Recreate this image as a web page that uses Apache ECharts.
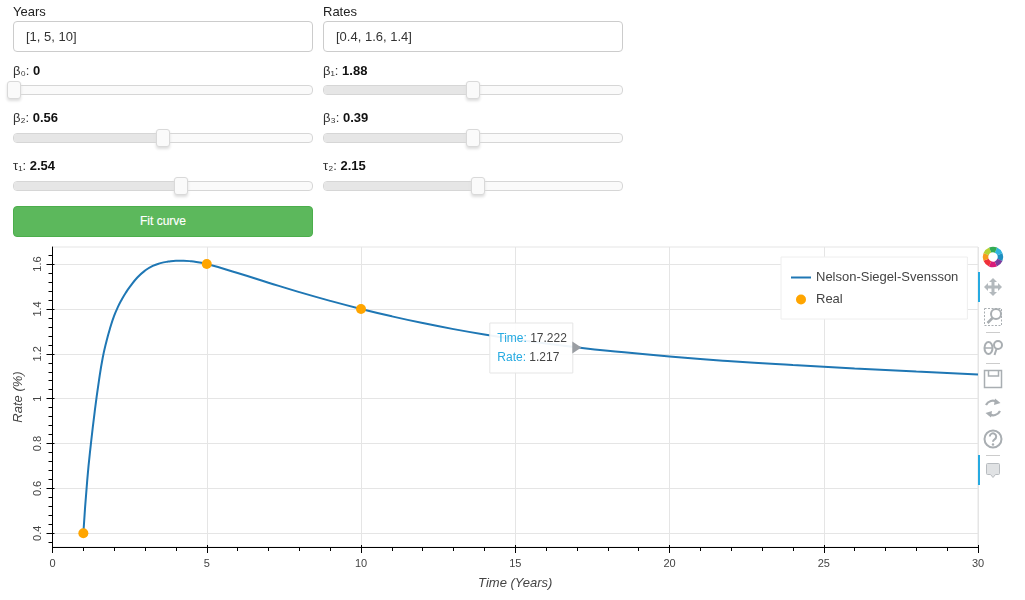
<!DOCTYPE html>
<html>
<head>
<meta charset="utf-8">
<title>Nelson-Siegel-Svensson</title>
<script src="https://cdn.jsdelivr.net/npm/echarts@6/dist/echarts.min.js"></script>
<style>
html, body { margin: 0; padding: 0; background: #fff; overflow: hidden; }
body { width: 1025px; height: 600px; position: relative; font-family: "Liberation Sans", Arial, sans-serif; color: #222; }
#chart { position: absolute; left: 0; top: 0; width: 1025px; height: 600px; }
.title { position: absolute; font-size: 13px; line-height: 16px; }
.box { position: absolute; width: 286px; height: 29px; padding-left: 12px; border: 1px solid #ccc; border-radius: 4px; font-size: 13px; line-height: 29px; background: #fff; color: #333; }
.lab { position: absolute; font-size: 13px; line-height: 16px; color: #333; }
.lab b { color: #111; }
.track { position: absolute; width: 298px; height: 8px; border: 1px solid #d6d6d6; border-radius: 4px; background: #fafafa; overflow: hidden; }
.fill { height: 100%; background: #e6e6e6; }
.handle { position: absolute; width: 12px; height: 16px; border: 1px solid #d9d9d9; border-radius: 3px; background: #fafafa; box-shadow: 0 2px 3px #ddd; }
.btn { position: absolute; left: 13px; top: 206px; width: 298px; height: 29px; border: 1px solid #4cae4c; border-radius: 4px; background: #5cb85c; color: #fff; font-size: 12px; line-height: 28px; text-align: center; -webkit-text-stroke: 0.15px #fff; }
#bar { position: absolute; left: 978px; top: 245px; }
</style>
</head>
<body>
<div id="chart"></div>
<div id="form"></div>
<svg id="bar" width="40" height="250" viewBox="978 245 40 250">
  <rect x="978" y="272" width="2" height="30" fill="#26aae1"/>
  <rect x="978" y="455" width="2" height="30" fill="#26aae1"/>
  <g fill="none" stroke-width="5.5">
    <circle cx="993" cy="257" r="7.5" stroke="#2fb4e0" stroke-dasharray="5.9 53" transform="rotate(-67 993 257)"/>
    <circle cx="993" cy="257" r="7.5" stroke="#1f8fc0" stroke-dasharray="5.9 53" transform="rotate(-22 993 257)"/>
    <circle cx="993" cy="257" r="7.5" stroke="#7a3d9e" stroke-dasharray="5.9 53" transform="rotate(23 993 257)"/>
    <circle cx="993" cy="257" r="7.5" stroke="#d81b7a" stroke-dasharray="5.9 53" transform="rotate(68 993 257)"/>
    <circle cx="993" cy="257" r="7.5" stroke="#f0303a" stroke-dasharray="5.9 53" transform="rotate(113 993 257)"/>
    <circle cx="993" cy="257" r="7.5" stroke="#f79a1e" stroke-dasharray="5.9 53" transform="rotate(158 993 257)"/>
    <circle cx="993" cy="257" r="7.5" stroke="#b5d334" stroke-dasharray="5.9 53" transform="rotate(203 993 257)"/>
    <circle cx="993" cy="257" r="7.5" stroke="#33ab54" stroke-dasharray="5.9 53" transform="rotate(248 993 257)"/>
  </g>
  <path d="M993 278l4 4h-2.500v3.500h3.500v-2.500l4 4-4 4v-2.500h-3.500v3.500h2.500l-4 4-4-4h2.500v-3.500h-3.500v2.500l-4-4 4-4v2.500h3.500v-3.500h-2.500z" fill="#b3b9bd"/>
  <g fill="none" stroke="#a9aeb2">
    <rect x="984.500" y="308.500" width="17" height="17" stroke-dasharray="2 1.500" stroke-width="1"/>
    <circle cx="996" cy="314" r="5" fill="#fff" stroke-width="2"/>
    <path d="M992.500 318l-5 5" stroke-width="2.500"/>
    <ellipse cx="988.500" cy="348" rx="4" ry="6" stroke-width="2"/>
    <path d="M985 348h7" stroke-width="1.500"/>
    <circle cx="998" cy="345" r="4" stroke-width="2"/>
    <path d="M996.500 349l-2 6" stroke-width="2"/>
    <path d="M984.500 370.500h17v17h-17z" stroke-width="1.500"/>
    <path d="M988.500 370.500v5.500h10v-5.500" stroke-width="1.500"/>
    <path d="M986 405a7.500 7.500 0 0 1 11-3M1000 411a7.500 7.500 0 0 1-11 3" stroke-width="2.200"/>
    <circle cx="993" cy="439" r="8.500" stroke-width="2"/>
    <path d="M989.800 436.500a3.200 3.200 0 1 1 4.800 2.800c-1 .6-1.600 1.200-1.600 2.400" stroke-width="2"/>
    <path d="M986 332.500h14M986 363.500h14M986 455.500h14" stroke="#ccc" stroke-width="1"/>
  </g>
  <path d="M995 398.500l5.500 4.500-6.500 2zM991 417.500l-5.500-4.500 6.500-2z" fill="#a9aeb2"/>
  <circle cx="993" cy="444.500" r="1.200" fill="#a9aeb2"/>
  <path d="M987.500 463.500h11a1 1 0 0 1 1 1v9a1 1 0 0 1-1 1h-3l-2.500 3-2.500-3h-3a1 1 0 0 1-1-1v-9a1 1 0 0 1 1-1z" fill="#e0e2e4" stroke="#b8bcc0"/>
</svg>
<script>
// values
var curveTimes = [1, 1.125, 1.25, 1.375, 1.5, 1.625, 1.75, 1.875, 2, 2.125, 2.25, 2.375, 2.5, 2.75, 3, 3.25, 3.5, 3.75, 4, 4.25, 4.5, 5, 6, 7, 8, 9, 10, 11, 12, 13, 14, 15, 16, 17, 18, 20, 22, 24, 26, 28, 30];
var curveRates = [0.4, 0.635, 0.805, 0.95, 1.075, 1.18, 1.256, 1.318, 1.37, 1.41, 1.443, 1.472, 1.497, 1.54, 1.571, 1.592, 1.604, 1.611, 1.615, 1.615, 1.612, 1.6, 1.56, 1.517, 1.475, 1.436, 1.4, 1.367, 1.337, 1.31, 1.286, 1.265, 1.246, 1.229, 1.214, 1.188, 1.167, 1.15, 1.135, 1.121, 1.108];
var realTimes = [1, 5, 10];
var realRates = [0.4, 1.6, 1.4];
var yTicks = [0.4, 0.6, 0.8, 1, 1.2, 1.4, 1.6];
var yMinorTicks = [0.36, 0.44, 0.48, 0.52, 0.56, 0.64, 0.68, 0.72, 0.76, 0.84, 0.88, 0.92, 0.96, 1.04, 1.08, 1.12, 1.16, 1.24, 1.28, 1.32, 1.36, 1.44, 1.48, 1.52, 1.56, 1.64];
var tipTime = 17.222;
var tipRate = 1.217;

// form controls
var inputs = [
    ['Years', '[1, 5, 10]', 13],
    ['Rates', '[0.4, 1.6, 1.4]', 323]
];
var sliders = [
    ['β₀', '0', 13, 63, 85, 14],
    ['β₁', '1.88', 323, 63, 85, 473],
    ['β₂', '0.56', 13, 110, 133, 163],
    ['β₃', '0.39', 323, 110, 133, 473],
    ['τ₁', '2.54', 13, 158, 181, 181],
    ['τ₂', '2.15', 323, 158, 181, 478]
];

var html = '';
inputs.forEach(function (d) {
    html += '<div class="title" style="left:' + d[2] + 'px;top:4px">' + d[0] + '</div>';
    html += '<div class="box" style="left:' + d[2] + 'px;top:21px">' + d[1] + '</div>';
});
sliders.forEach(function (d) {
    html += '<div class="lab" style="left:' + d[2] + 'px;top:' + d[3] + 'px">' + d[0] + ': <b>' + d[1] + '</b></div>';
    html += '<div class="track" style="left:' + d[2] + 'px;top:' + d[4] + 'px"><div class="fill" style="width:' + (d[5] - d[2]) + 'px"></div></div>';
    html += '<div class="handle" style="left:' + (d[5] - 7) + 'px;top:' + (d[4] - 4) + 'px"></div>';
});
html += '<div class="btn">Fit curve</div>';
document.getElementById('form').innerHTML = html;

var curve = curveTimes.map(function (t, i) { return [t, curveRates[i]]; });
var real = realTimes.map(function (t, i) { return [t, realRates[i]]; });

var yMin = 0.339, yMax = 1.676;
var font = 'Liberation Sans';
var chart = echarts.init(document.getElementById('chart'));

chart.setOption({
    animation: false,
    textStyle: { fontFamily: font },
    grid: { left: 52.5, top: 247, width: 925.5, height: 300, show: true, borderColor: '#e5e5e5', borderWidth: 1 },
    legend: {
        orient: 'vertical',
        left: 781,
        top: 257,
        padding: [14, 9, 13, 10],
        itemWidth: 20,
        itemHeight: 10,
        itemGap: 9,
        backgroundColor: '#fff',
        borderColor: '#eeeeee',
        borderWidth: 1,
        textStyle: { fontSize: 13, color: '#444' },
        data: [{ name: 'Nelson-Siegel-Svensson', icon: 'path://M0 0H20V2H0Z' }, { name: 'Real', icon: 'circle' }]
    },
    xAxis: [
        {
            type: 'value',
            min: 0,
            max: 30,
            interval: 5,
            name: 'Time (Years)',
            nameLocation: 'middle',
            nameGap: 30,
            nameTextStyle: { fontSize: 13, fontStyle: 'italic', color: '#444' },
            axisLine: { show: true, onZero: false, lineStyle: { color: '#000' } },
            axisTick: { show: true, length: 6, lineStyle: { color: '#000' } },
            minorTick: { show: true, splitNumber: 5, length: 4, lineStyle: { color: '#000' } },
            axisLabel: { fontSize: 11, color: '#444', margin: 11 },
            splitLine: { show: true, lineStyle: { color: '#e5e5e5' } }
        },
        {
            type: 'value',
            min: 0,
            max: 30,
            interval: 5,
            position: 'bottom',
            axisLine: { show: false, onZero: false },
            axisTick: { show: true, inside: true, length: 2, lineStyle: { color: '#000' } },
            axisLabel: { show: false },
            splitLine: { show: false }
        }
    ],
    yAxis: [
        {
            type: 'value',
            min: yMin,
            max: yMax,
            position: 'left',
            name: 'Rate (%)',
            nameLocation: 'middle',
            nameGap: 27,
            nameRotate: 90,
            nameTextStyle: { fontSize: 13, fontStyle: 'italic', color: '#444' },
            axisLine: { show: true, onZero: false, lineStyle: { color: '#000' } },
            axisTick: { show: true, length: 6, customValues: yTicks, lineStyle: { color: '#000' } },
            axisLabel: { fontSize: 11, color: '#444', rotate: 90, margin: 9, customValues: yTicks, align: 'center' },
            splitLine: { show: true, lineStyle: { color: '#e5e5e5' } }
        },
        {
            type: 'value',
            min: yMin,
            max: yMax,
            position: 'left',
            axisLine: { show: false, onZero: false },
            axisTick: { show: true, length: 4, customValues: yMinorTicks, lineStyle: { color: '#000' } },
            axisLabel: { show: false },
            splitLine: { show: false }
        },
        {
            type: 'value',
            min: yMin,
            max: yMax,
            position: 'left',
            axisLine: { show: false, onZero: false },
            axisTick: { show: true, inside: true, length: 2, customValues: yTicks, lineStyle: { color: '#000' } },
            axisLabel: { show: false },
            splitLine: { show: false }
        }
    ],
    series: [
        {
            name: 'Nelson-Siegel-Svensson',
            type: 'line',
            symbol: 'none',
            smooth: 0.5,
            lineStyle: { color: '#1f77b4', width: 2 },
            itemStyle: { color: '#1f77b4' },
            data: curve,
            z: 3
        },
        {
            name: 'Real',
            type: 'scatter',
            symbol: 'circle',
            symbolSize: 10,
            itemStyle: { color: '#ffa500', opacity: 1 },
            data: real,
            z: 4
        }
    ]
});

// hover tooltip, anchored on its data position
var tip = chart.convertToPixel({ xAxisIndex: 0, yAxisIndex: 0 }, [tipTime, tipRate]);
var tx = tip[0] - 94.5, ty = tip[1] - 27.5;
var tipText = { k: { fontFamily: font, fontSize: 12, fill: '#26aae1' }, v: { fontFamily: font, fontSize: 12, fill: '#444' } };
chart.setOption({
    graphic: [
        {
            type: 'rect',
            z: 100,
            shape: { x: tx + 0.5, y: ty + 0.5, width: 83, height: 50 },
            style: { fill: 'rgba(255,255,255,0.93)', stroke: '#e5e5e5', lineWidth: 1 }
        },
        {
            type: 'polygon',
            z: 100,
            shape: { points: [[tx + 83, ty + 19], [tx + 92, ty + 25], [tx + 83, ty + 31]] },
            style: { fill: '#9a9ea3' }
        },
        {
            type: 'text',
            z: 101,
            x: tx + 8,
            y: ty + 16,
            style: { text: '{k|Time:} {v|' + tipTime + '}', verticalAlign: 'middle', rich: tipText }
        },
        {
            type: 'text',
            z: 101,
            x: tx + 8,
            y: ty + 35,
            style: { text: '{k|Rate:} {v|' + tipRate + '}', verticalAlign: 'middle', rich: tipText }
        }
    ]
});
</script>
</body>
</html>
